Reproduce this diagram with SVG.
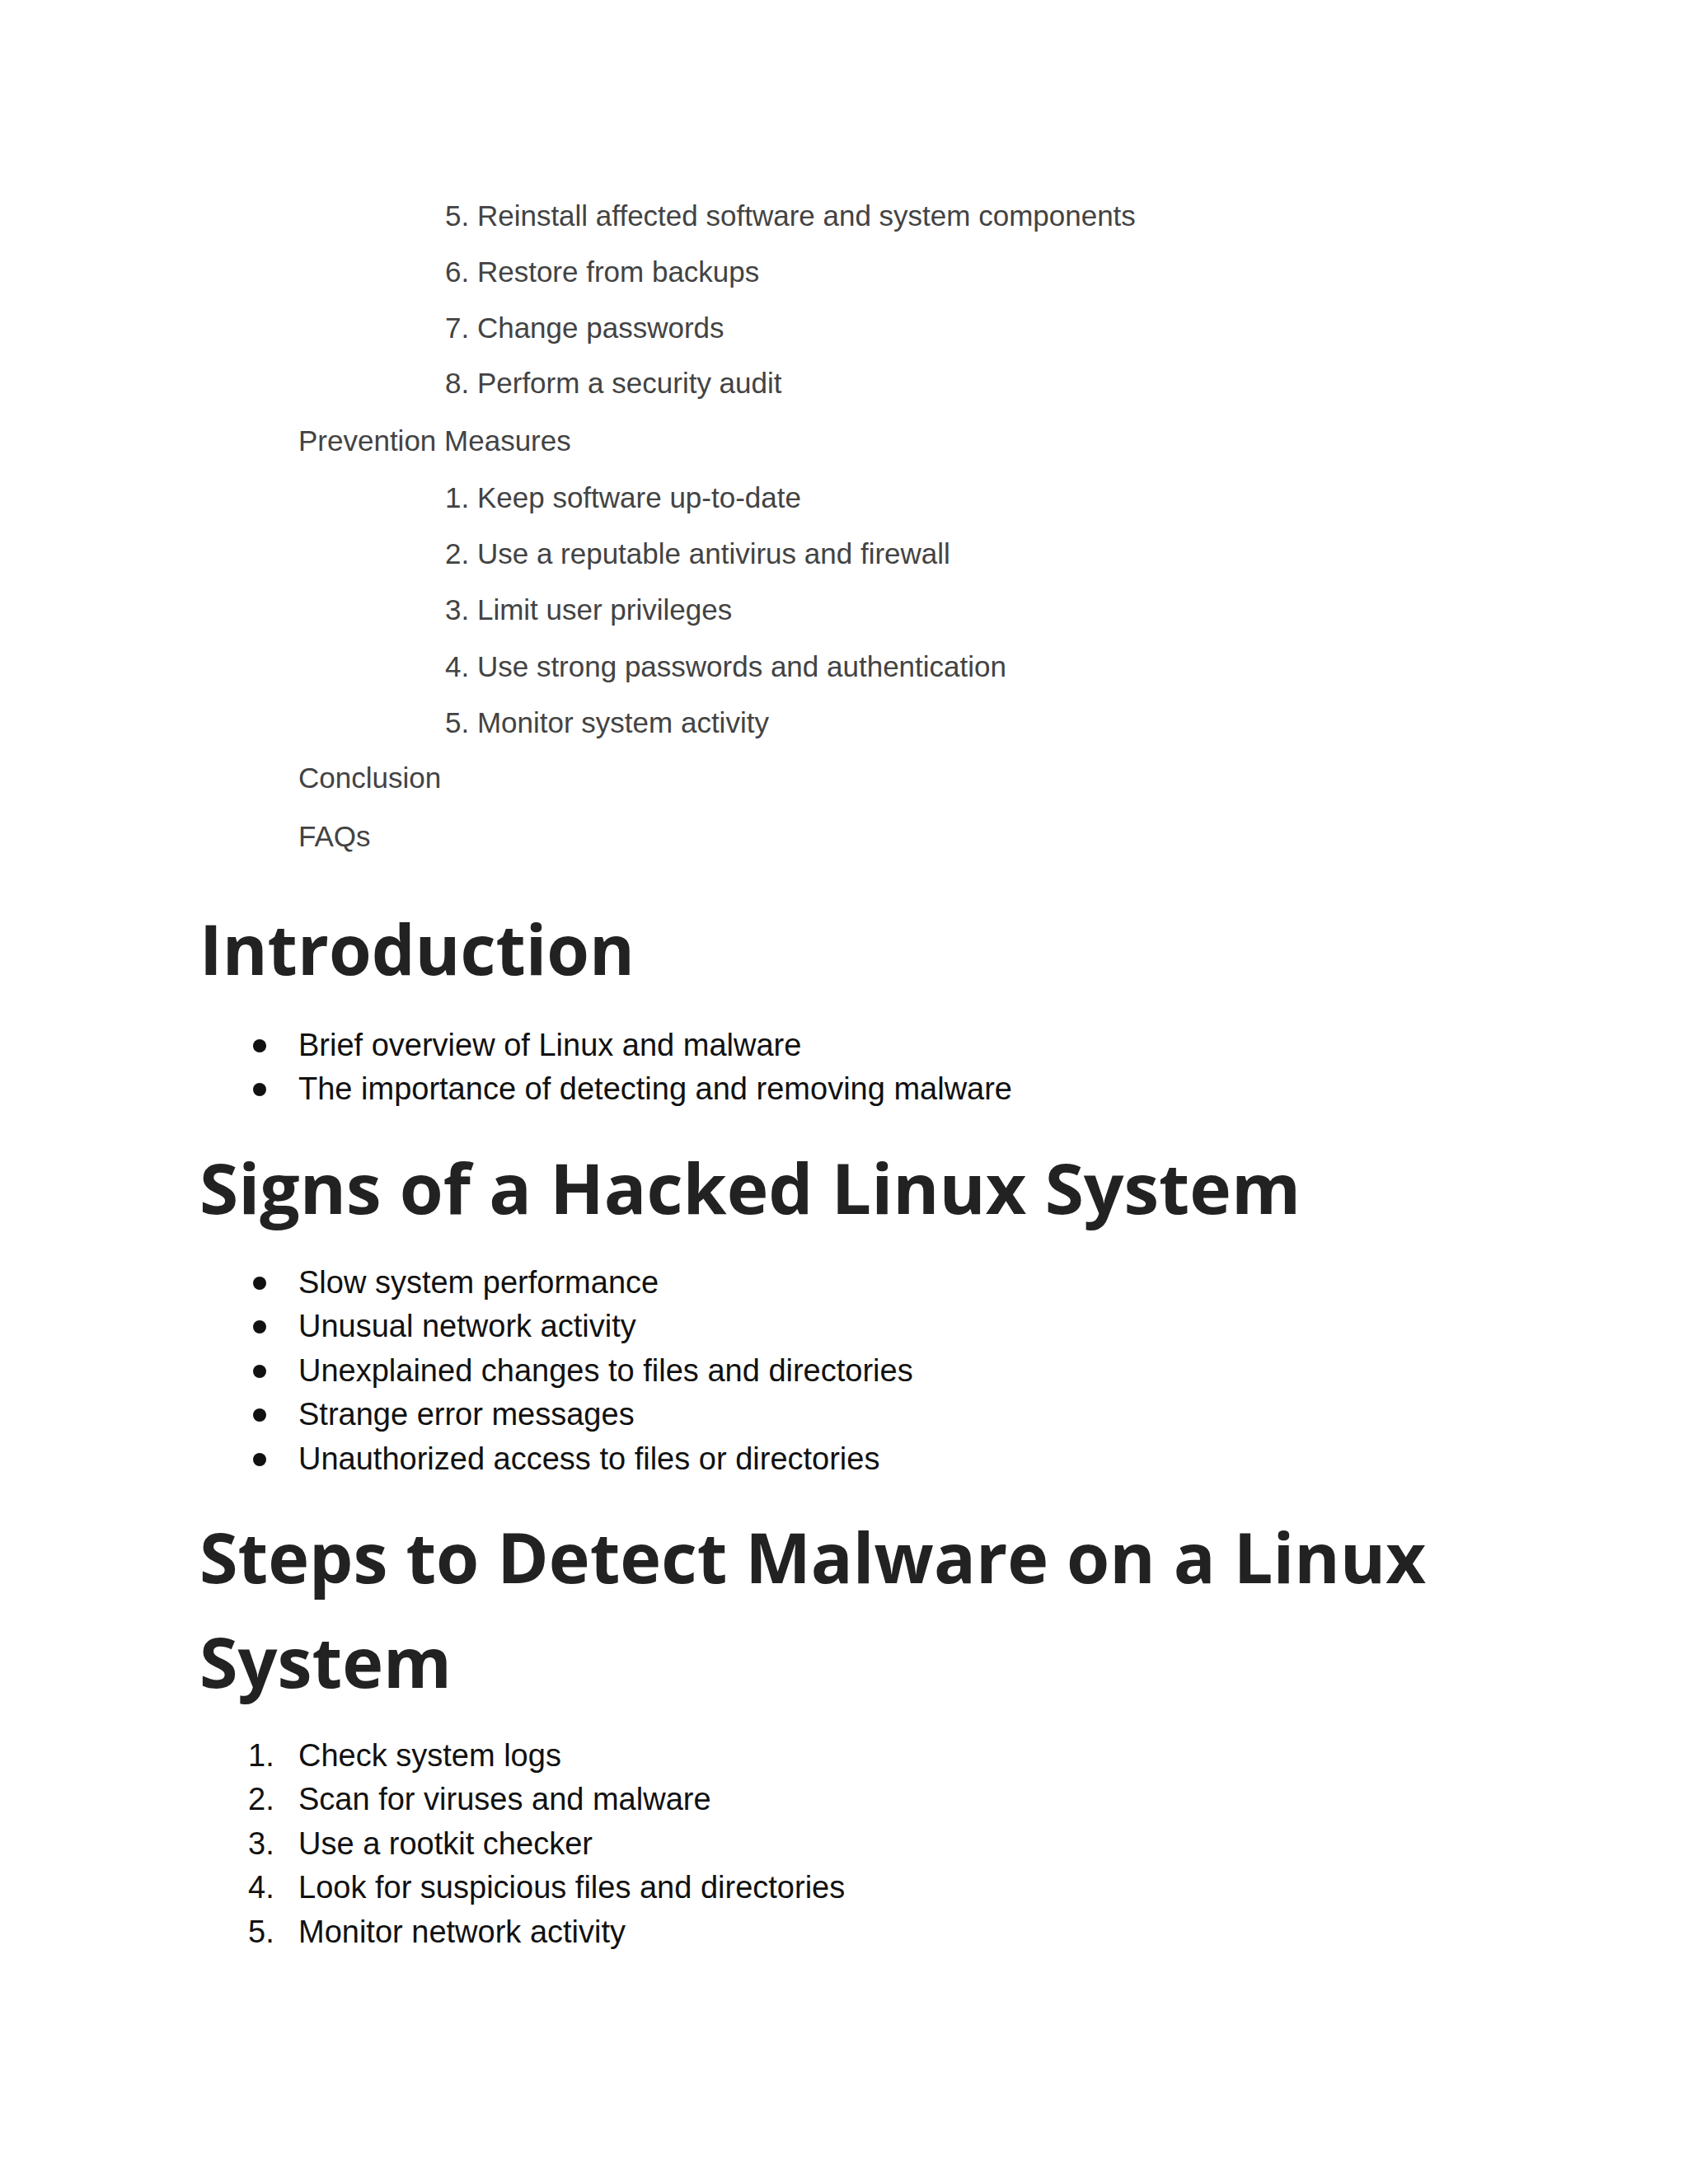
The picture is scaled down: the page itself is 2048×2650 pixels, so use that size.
<svg xmlns="http://www.w3.org/2000/svg" width="2048" height="2650" viewBox="0 0 2048 2650">
<style>
.toc{font-family:"Liberation Sans",Arial,sans-serif;font-size:35px;fill:#434343}
.b{font-family:"Liberation Sans",Arial,sans-serif;font-size:38px;fill:#111}
.h{font-family:"Open Sans","Liberation Sans",sans-serif;font-weight:bold;font-size:84px;fill:#222}
</style>
<rect width="2048" height="2650" fill="#fff"/>
<g id="toc">
<text class="toc" x="540" y="274">5. Reinstall affected software and system components</text>
<text class="toc" x="540" y="342">6. Restore from backups</text>
<text class="toc" x="540" y="410">7. Change passwords</text>
<text class="toc" x="540" y="477">8. Perform a security audit</text>
<text class="toc" x="362" y="547">Prevention Measures</text>
<text class="toc" x="540" y="616">1. Keep software up-to-date</text>
<text class="toc" x="540" y="684">2. Use a reputable antivirus and firewall</text>
<text class="toc" x="540" y="752">3. Limit user privileges</text>
<text class="toc" x="540" y="821">4. Use strong passwords and authentication</text>
<text class="toc" x="540" y="889">5. Monitor system activity</text>
<text class="toc" x="362" y="956">Conclusion</text>
<text class="toc" x="362" y="1027">FAQs</text>
</g>
<g id="intro">
<text class="h" x="242" y="1183" textLength="528" lengthAdjust="spacingAndGlyphs">Introduction</text>
<circle cx="315" cy="1269" r="8" fill="#111"/><text class="b" x="362" y="1281">Brief overview of Linux and malware</text>
<circle cx="315" cy="1322" r="8" fill="#111"/><text class="b" x="362" y="1334">The importance of detecting and removing malware</text>
</g>
<g id="signs">
<text class="h" x="242" y="1473" textLength="1336" lengthAdjust="spacingAndGlyphs">Signs of a Hacked Linux System</text>
<circle cx="315" cy="1557" r="8" fill="#111"/><text class="b" x="362" y="1569">Slow system performance</text>
<circle cx="315" cy="1610" r="8" fill="#111"/><text class="b" x="362" y="1622">Unusual network activity</text>
<circle cx="315" cy="1664" r="8" fill="#111"/><text class="b" x="362" y="1676">Unexplained changes to files and directories</text>
<circle cx="315" cy="1717" r="8" fill="#111"/><text class="b" x="362" y="1729">Strange error messages</text>
<circle cx="315" cy="1771" r="8" fill="#111"/><text class="b" x="362" y="1783">Unauthorized access to files or directories</text>
</g>
<g id="steps">
<text class="h" x="242" y="1921" textLength="1488" lengthAdjust="spacingAndGlyphs">Steps to Detect Malware on a Linux</text>
<text class="h" x="242" y="2048" textLength="306" lengthAdjust="spacingAndGlyphs">System</text>
<text class="b" x="301" y="2143">1.</text><text class="b" x="362" y="2143">Check system logs</text>
<text class="b" x="301" y="2196">2.</text><text class="b" x="362" y="2196">Scan for viruses and malware</text>
<text class="b" x="301" y="2250">3.</text><text class="b" x="362" y="2250">Use a rootkit checker</text>
<text class="b" x="301" y="2303">4.</text><text class="b" x="362" y="2303">Look for suspicious files and directories</text>
<text class="b" x="301" y="2357">5.</text><text class="b" x="362" y="2357">Monitor network activity</text>
</g>
</svg>
